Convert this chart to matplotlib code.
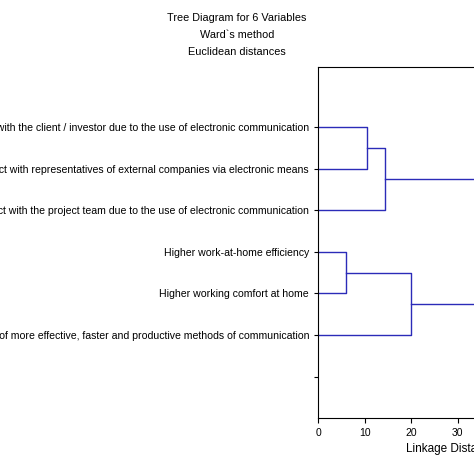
import matplotlib
matplotlib.use("Agg")
import matplotlib.pyplot as plt

labels = [
    "Better contact with the client / investor due to the use of electronic communication",
    "Better contact with representatives of external companies via electronic means",
    "Better contact with the project team due to the use of electronic communication",
    "Higher work-at-home efficiency",
    "Higher working comfort at home",
    "Introduction of more effective, faster and productive methods of communication",
]
# merges: (cluster a, cluster b, linkage distance); clusters 0-5 leaves, 6+ new
merges = [(0, 1, 10.5), (3, 4, 6.0), (6, 2, 14.4), (7, 5, 20.0), (8, 9, 45.0)]

plt.rcParams['font.family'] = ['Liberation Sans', 'DejaVu Sans']
fig = plt.figure(figsize=(4.74, 4.74), dpi=100)
ax = fig.add_axes([0.671, 0.118, 0.56, 0.741])
col = '#2b2bb8'
pos = {i: (0.0, i + 1) for i in range(len(labels))}
for k, (a, b, h) in enumerate(merges):
    xa, ya = pos[a]; xb, yb = pos[b]
    ax.plot([xa, h, h, xb], [ya, ya, yb, yb], color=col, lw=1)
    pos[len(labels) + k] = (h, (ya + yb) / 2)
ax.set_xlim(0, 57)
ax.set_ylim(8, -0.45)
ax.set_xticks(range(0, 60, 10))
ax.set_yticks(range(1, 8))
ax.set_yticklabels(labels + [""], fontsize=7.6)
ax.tick_params(axis='x', labelsize=7.5)
ax.tick_params(axis='y', length=3)
ax.set_xlabel("Linkage Distance", fontsize=8.5)
fig.text(0.5, 0.955, "Tree Diagram for 6 Variables", ha='center', fontsize=7.8)
fig.text(0.5, 0.92, "Ward`s method", ha='center', fontsize=7.8)
fig.text(0.5, 0.885, "Euclidean distances", ha='center', fontsize=7.8)
fig.savefig("out.png", dpi=100)
